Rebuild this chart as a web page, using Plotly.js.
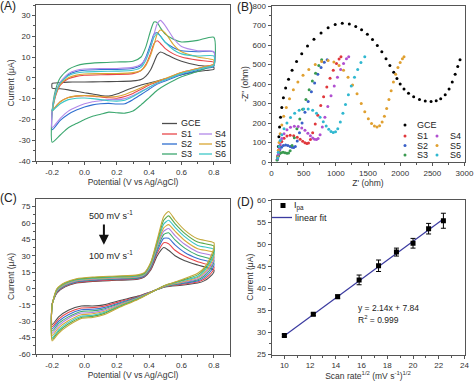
<!DOCTYPE html>
<html><head><meta charset="utf-8">
<script src="https://cdn.plot.ly/plotly-3.0.1.min.js"></script>
<style>html,body{margin:0;padding:0;background:#fff}#chart{width:474px;height:384px}</style>
</head><body><div id="chart"></div>
<script>
// ---------- Panel A: CVs of electrodes ----------
const potUpA = [-0.2,-0.18,-0.15,-0.1,-0.05,0.0,0.1,0.2,0.3,0.35,0.38,0.41,0.43,0.45,0.47,0.5,0.55,0.6,0.7,0.8];
const potDownA = [0.8,0.75,0.7,0.6,0.5,0.45,0.4,0.35,0.3,0.25,0.2,0.15,0.1,0.05,0.0,-0.05,-0.1,-0.15,-0.2];
const namesA = ['GCE','S1','S2','S3','S4','S5','S6'];
const upGCE = [-2.7,-2.5,-2.3,-2.1,-2.0,-2.0,-1.9,-1.8,-1.5,-0.8,0.8,4,7.5,11,12.4,11.5,9.5,8,6,5];
const upS1  = [-16,-9,-3.5,-0.5,0.7,1.2,1.5,1.6,2,3.5,6.5,12,16.5,17.8,16.5,14,11.5,10,8.5,7.5];
const upS2  = [-16,-8,-2.5,1.5,3,3.6,4,4,4.5,6,10,16.5,21,21.8,20,17,14.5,13,12.5,12.5];
const upS3  = [-16,-6,0,4,5.8,6.7,7.3,7.6,8,10,15,23,26.8,26.5,24,21,18.5,17.2,18,19.5];
const upS4  = [-16,-7.5,-2,2,3.6,4.2,4.5,4.5,5,6.5,9.5,15,21,26,27.6,25,19,15,13,12.5];
const upS5  = [-16,-8.5,-3,0,1.3,1.8,2,2.1,2.5,3.5,6,11,16,21,23,21.5,16,12.5,10,8.5];
const upS6  = [-16,-8,-2.5,1,2.3,2.8,3.1,3.2,3.6,5,8.5,15,19.5,21.2,20,17,13.5,11.5,10.5,10.5];
const downGCE = [4,3.5,3,1.5,-0.5,-1.5,-2.5,-3.5,-4.8,-6.2,-7.8,-8.8,-8.5,-7.8,-7.2,-6.5,-5.8,-5.3,-5];
const downS1  = [6.5,5.5,4.5,2.5,-0.5,-2,-3.5,-5.5,-7.5,-9,-9.8,-9.6,-9.2,-8.8,-8.6,-8.8,-9.5,-11.5,-16];
const downS2  = [5.5,4.5,3.5,1.5,-1.5,-3,-5.5,-8,-10.5,-12.5,-12.6,-12.3,-12.5,-13,-14,-15.5,-17.5,-20.5,-25];
const downS3  = [6,4.5,3,0.5,-3.5,-6,-9.5,-13,-16,-17,-16.8,-16.5,-17.5,-18.5,-20,-22,-24,-27.5,-31];
const downS4  = [6,5,4,2,-1,-2.8,-4.5,-6.5,-8.5,-10,-10.5,-10.5,-11,-11.5,-12.5,-14,-16,-19.5,-24];
const downS5  = [6.5,5.5,4.5,2.5,-0.3,-1.7,-3,-4.8,-6.5,-8,-9,-9.2,-9,-8.7,-8.5,-8.7,-9.5,-11.5,-16];
const downS6  = [6,5,4,2,-1,-2.5,-4.5,-6.8,-9,-10.8,-11.2,-11,-10.5,-10,-9.7,-9.8,-10.5,-12.5,-16];
const colorsA = ['#4d4d4d','#e8474b','#2f6fd0','#3da870','#b288e8','#d9a632','#3ec8c8'];

// ---------- Panel B: Nyquist ----------
const namesB = ['GCE','S1','S2','S3','S4','S5','S6'];
const reGCE = [100,108,115,125,140,160,185,220,265,320,390,470,560,660,770,880,990,1100,1210,1310,1400,1490,1570,1645,1715,1780,1840,1900,1950,2000,2060,2130,2210,2300,2390,2480,2560,2630,2700,2760,2810,2855,2895,2930];
const imGCE = [30,80,130,180,230,280,330,380,425,470,515,555,595,630,662,688,705,712,708,695,678,655,628,598,565,530,495,460,428,400,375,352,335,321,313,310,314,325,345,375,410,450,490,525];
const reS1 = [95,105,118,135,160,195,240,290,345,400,445,485,520,550,575,605,640,680,720,765,810,860,910,960,1010,1050,1080];
const imS1 = [15,35,58,82,105,122,133,137,135,127,117,107,99,95,98,115,150,195,240,290,335,385,430,470,505,528,540];
const reS2 = [90,100,112,130,155,185,220,255,290,320,345,370,400,435,475,520,570,620,670,720,770,820,865];
const imS2 = [12,30,48,64,76,84,87,85,80,76,74,80,108,150,200,255,310,360,405,450,485,512,525];
const reS3 = [85,95,108,125,150,180,210,240,265,290,320,355,395,440,485,535,585,635,685,735,780];
const imS3 = [10,22,33,42,48,50,48,45,46,58,85,125,170,220,270,320,370,415,455,495,525];
const reS4 = [95,105,118,135,160,195,240,295,355,415,470,520,565,605,640,670,700,725,755,790,830,875,925,975,1025,1075,1120,1165,1200];
const imS4 = [18,40,65,92,120,145,165,178,183,182,175,163,148,134,123,117,115,120,140,180,230,285,340,390,435,475,505,530,540];
const reS5 = [95,105,118,135,160,190,230,280,340,410,490,580,680,780,880,970,1050,1120,1190,1260,1330,1395,1450,1505,1555,1600,1640,1680,1720,1755,1790,1825,1860,1895,1930,1965,2000,2035,2060];
const imS5 = [25,60,100,145,190,235,280,325,370,410,445,475,500,515,520,513,495,470,435,395,350,300,258,222,198,185,180,186,205,235,275,320,365,410,450,485,510,530,540];
const reS6 = [95,105,118,135,160,195,240,295,360,430,500,570,640,700,755,805,850,890,925,960,995,1030,1070,1110,1150,1195,1240,1290,1340,1390,1450];
const imS6 = [20,50,80,110,140,170,200,228,250,265,272,272,265,250,230,207,185,168,156,151,155,170,205,250,295,345,390,435,475,510,540];
const colorsB = ['#000000','#e0383c','#3a60c8','#3a9a50','#b050d0','#e0a030','#30b8d0'];

// ---------- Panel C: CVs at scan rates ----------
const potUpC = [-0.2,-0.17,-0.12,-0.05,0.05,0.2,0.33,0.37,0.41,0.45,0.49,0.52,0.56,0.62,0.7,0.8];
const potDownC = [0.8,0.77,0.74,0.7,0.6,0.5,0.42,0.33,0.22,0.12,0.05,-0.02,-0.1,-0.16,-0.2];
const scanRates = [100,150,200,250,300,350,400,450,500];
const upC100 = [-14,-4,1.5,5,6.5,7.5,8.5,10.5,17,30,37.5,35,30,25.5,21.5,17];
const upC150 = [-14,-3.5,2,5.5,7,8,9,11,18,32.5,42,41,35,29.5,24.5,20];
const upC200 = [-14.5,-3,2.5,6,7.5,8.5,9.5,11.5,19,34.5,46,46,40,33,27.5,23];
const upC250 = [-14.5,-2.5,3,6.5,8,9,10,12,20,36.5,49.5,51,44.5,37,30.5,26];
const upC300 = [-14.5,-2,3.5,7,8.5,9.5,10.5,12.5,21,38.5,52.5,55,48.5,40.5,33.5,29.5];
const upC350 = [-15,-1.5,4,7.5,9,10,11,13,22,40,55.5,58.5,52.5,44,36.5,33];
const upC400 = [-15,-1,4.5,8,9.5,10.5,11.5,13.5,22.5,41.5,59,62.5,56,47.5,39.5,36];
const upC450 = [-15,-0.5,5,8.5,10,11,12,14,23.5,43,62.5,66.5,59.5,50.5,42.5,39];
const upC500 = [-15,0,5.5,9,10.5,11.5,12.5,14.5,24,45,66,70.5,63,53.5,45.5,42];
const downC100 = [15,10,7,5,3,1.5,-2.5,-7,-11,-15,-16,-16,-20,-26,-33];
const downC150 = [18,12,8.5,6,3.8,1.8,-2.6,-7.5,-12,-16.2,-17.5,-17.8,-22,-28,-35];
const downC200 = [21,14,10,7,4.5,2,-2.7,-8,-13,-17.5,-19,-19.5,-24,-30,-37];
const downC250 = [24,16,11.5,8,5,2.2,-2.8,-8.3,-13.8,-18.7,-20.5,-21,-26,-32,-39];
const downC300 = [26,18,13,9,5.5,2.4,-2.8,-8.6,-14.5,-19.8,-22,-22.5,-27.5,-34,-41];
const downC350 = [29,20,14.5,10,6,2.6,-2.9,-9,-15.2,-21,-23.2,-24,-29.5,-36,-43];
const downC400 = [31,22,16,11,6.8,2.7,-2.9,-9.3,-15.8,-22,-24.5,-25.5,-31,-38,-45];
const downC450 = [34,24,17.5,12.5,7.4,2.9,-3,-9.6,-16.4,-23,-25.5,-26.5,-32.5,-39.5,-46.5];
const downC500 = [37,26,19,14,8,3,-3,-10,-17,-24,-26.5,-27.5,-34,-41,-48];
const colorsC = ['#4d4d4d','#e8474b','#3a6fd0','#3caa6e','#b07fe0','#d8a83a','#3cc6c6','#5aa84a','#c4a83a'];

// ---------- Panel D: Ipa vs sqrt(scan rate) ----------
const scanRoot = [10, 12.25, 14.14, 15.81, 17.32, 18.71, 20, 21.21, 22.36];
const ipa = [29.3, 34.1, 38.1, 41.9, 45.1, 48.2, 50.2, 53.5, 55.3];
const ipaErr = [0.3, 0.3, 0.4, 1.1, 1.3, 0.9, 1.1, 1.2, 1.7];
const fitX = [10, 22.36];
const fitY = [29.24, 55.69];

// tick labels
const tickValsCVx = [-0.2,0,0.2,0.4,0.6,0.8];
const tickTextCVx = ['-0.2','0.0','0.2','0.4','0.6','0.8'];
const tickValsAy = [-40,-30,-20,-10,0,10,20,30];
const tickTextAy = ['-40','-30','-20','-10','0','10','20','30'];
const tickValsCy = [-60,-45,-30,-15,0,15,30,45,60,75];
const tickTextCy = ['-60','-45','-30','-15','0','15','30','45','60','75'];

// ---------- build ----------
const W = 474, H = 384;
const PX = p => p / W, PY = p => 1 - p / H;
const traces = [];
const upA = [upGCE, upS1, upS2, upS3, upS4, upS5, upS6];
const downA = [downGCE, downS1, downS2, downS3, downS4, downS5, downS6];
namesA.forEach((n, i) => traces.push({
  x: potUpA.concat(potDownA, [potUpA[0]]), y: upA[i].concat(downA[i], [upA[i][0]]),
  xaxis: 'x', yaxis: 'y', mode: 'lines', name: n, showlegend: false,
  line: {color: colorsA[i], width: 1.1, shape: 'spline', smoothing: 0.6}
}));
const reB = [reGCE, reS1, reS2, reS3, reS4, reS5, reS6];
const imB = [imGCE, imS1, imS2, imS3, imS4, imS5, imS6];
namesB.forEach((n, i) => traces.push({
  x: reB[i], y: imB[i], xaxis: 'x2', yaxis: 'y2', mode: 'markers', name: n, showlegend: false,
  marker: {color: colorsB[i], size: 3}
}));
const upC = [upC100, upC150, upC200, upC250, upC300, upC350, upC400, upC450, upC500];
const downC = [downC100, downC150, downC200, downC250, downC300, downC350, downC400, downC450, downC500];
scanRates.forEach((r, i) => traces.push({
  x: potUpC.concat(potDownC, [potUpC[0]]), y: upC[i].concat(downC[i], [upC[i][0]]),
  xaxis: 'x3', yaxis: 'y3', mode: 'lines', name: r + ' mV/s', showlegend: false,
  line: {color: colorsC[i], width: 1.1, shape: 'spline', smoothing: 0.6}
}));
traces.push({x: fitX, y: fitY, xaxis: 'x4', yaxis: 'y4', mode: 'lines', name: 'linear fit', showlegend: false,
  line: {color: '#3b3ba0', width: 1.2}});
traces.push({x: scanRoot, y: ipa, xaxis: 'x4', yaxis: 'y4', mode: 'markers', name: 'Ipa', showlegend: false,
  marker: {symbol: 'square', size: 5, color: '#000'},
  error_y: {type: 'data', array: ipaErr, visible: true, color: '#000', thickness: 1, width: 2.5}});

const axCol = '#555';
function ax(dom, range, extra, minorDtick, minorTick0) {
  return Object.assign({
    domain: dom, range: range, showline: true, linecolor: axCol, linewidth: 1, mirror: true,
    ticks: 'outside', ticklen: 3, tickwidth: 1, tickcolor: axCol, showgrid: false, zeroline: false,
    tickfont: {size: 8, color: '#333'},
    minor: {ticks: 'outside', ticklen: 2, tickcolor: axCol, tickmode: 'linear', tick0: minorTick0, dtick: minorDtick, showgrid: false}
  }, extra);
}
const tFont = {size: 8.5, color: '#333'};
const xdomL = [PX(36), PX(230)], xdomR = [PX(271.5), PX(464.5)];
const layout = {
  width: W, height: H, margin: {l: 0, r: 0, t: 0, b: 0}, showlegend: false,
  paper_bgcolor: '#fff', plot_bgcolor: '#fff',
  font: {family: 'Liberation Sans, Arial, sans-serif', color: '#333'},
  xaxis: ax(xdomL, [-0.3, 0.9], {anchor: 'y', tickmode: 'array', tickvals: tickValsCVx, ticktext: tickTextCVx,
    title: {text: 'Potential (V vs Ag/AgCl)', font: tFont, standoff: 3}}, 0.1, 0),
  yaxis: ax([PY(161), PY(5)], [-40, 35], {anchor: 'x', tickmode: 'array', tickvals: tickValsAy, ticktext: tickTextAy,
    title: {text: 'Current (μA)', font: tFont, standoff: 2}}, 5, 0),
  xaxis2: ax(xdomR, [0, 3000], {anchor: 'y2', tick0: 0, dtick: 500,
    title: {text: "Z' (ohm)", font: tFont, standoff: 3}}, 250, 0),
  yaxis2: ax([PY(162), PY(6)], [0, 800], {anchor: 'x2', tick0: 0, dtick: 100,
    title: {text: '-Z" (ohm)', font: tFont, standoff: 2}}, 50, 0),
  xaxis3: ax(xdomL, [-0.3, 0.9], {anchor: 'y3', tickmode: 'array', tickvals: tickValsCVx, ticktext: tickTextCVx,
    title: {text: 'Potential (V vs Ag/AgCl)', font: tFont, standoff: 3}}, 0.1, 0),
  yaxis3: ax([PY(354), PY(199)], [-60, 82], {anchor: 'x3', tickmode: 'array', tickvals: tickValsCy, ticktext: tickTextCy,
    title: {text: 'Current (μA)', font: tFont, standoff: 2}}, 7.5, 0),
  xaxis4: ax(xdomR, [9, 24], {anchor: 'y4', tick0: 10, dtick: 2,
    title: {text: 'Scan rate<sup>1/2</sup> (mV s<sup>-1</sup>)<sup>1/2</sup>', font: tFont, standoff: 3}}, 1, 0),
  yaxis4: ax([PY(354.5), PY(200)], [25, 60], {anchor: 'x4', tick0: 25, dtick: 5,
    title: {text: 'Current (μA)', font: tFont, standoff: 2}}, 2.5, 0),
  shapes: [], annotations: []
};

function txt(t, x, y, size, anchor) {
  layout.annotations.push({text: t, x: PX(x), y: PY(y), xref: 'paper', yref: 'paper', showarrow: false,
    xanchor: anchor || 'left', yanchor: 'middle', font: {size: size, color: '#222'}, borderpad: 0});
}
// panel labels
txt('(A)', -1, 6, 12); txt('(B)', 236, 7, 12); txt('(C)', -1, 198, 12); txt('(D)', 236, 202, 12);

// legend A (two columns)
const legA = [[0, 162, 177, 180, 123.5], [1, 162, 177, 180, 134], [2, 162, 177, 180, 144], [3, 162, 177, 180, 154],
              [4, 199, 212, 214, 134], [5, 199, 212, 214, 144], [6, 199, 212, 214, 154]];
legA.forEach(([i, x0, x1, tx, y]) => {
  layout.shapes.push({type: 'line', xref: 'paper', yref: 'paper', x0: PX(x0), x1: PX(x1), y0: PY(y), y1: PY(y),
    line: {color: colorsA[i], width: 1.3}});
  txt(namesA[i], tx, y, 9);
});
// legend B
const legB = [[0, 405, 416, 125], [1, 405, 416, 136], [2, 405, 416, 145.5], [3, 405, 416, 155],
              [4, 437, 449, 136], [5, 437, 449, 145.5], [6, 437, 449, 155]];
legB.forEach(([i, mx, tx, y]) => {
  layout.shapes.push({type: 'circle', xref: 'paper', yref: 'paper', xsizemode: 'pixel', ysizemode: 'pixel',
    xanchor: PX(mx), yanchor: PY(y), x0: -1.5, x1: 1.5, y0: -1.5, y1: 1.5,
    fillcolor: colorsB[i], line: {width: 0}});
  txt(namesB[i], tx, y, 9);
});
// panel C arrow + labels
layout.annotations.push({x: 0.12, y: 40, ax: 0.12, ay: 60, xref: 'x3', yref: 'y3', axref: 'x3', ayref: 'y3',
  text: '', showarrow: true, arrowhead: 2, arrowsize: 1, arrowwidth: 2, arrowcolor: '#111'});
txt('500 mV s<sup>-1</sup>', 111, 215, 9, 'center');
txt('100 mV s<sup>-1</sup>', 111, 255, 9, 'center');
// legend D
layout.shapes.push({type: 'rect', xref: 'paper', yref: 'paper', xsizemode: 'pixel', ysizemode: 'pixel',
  xanchor: PX(283), yanchor: PY(205.5), x0: -2.5, x1: 2.5, y0: -2.5, y1: 2.5, fillcolor: '#000', line: {width: 0}});
txt('I<sub>pa</sub>', 293, 206, 9);
layout.shapes.push({type: 'line', xref: 'paper', yref: 'paper', x0: PX(272), x1: PX(292), y0: PY(217.5), y1: PY(217.5),
  line: {color: '#3b3ba0', width: 1.3}});
txt('linear fit', 294, 217.5, 9);
txt('y = 2.14x + 7.84', 357, 308, 8.5);
txt('R<sup>2</sup> = 0.999', 357, 319, 8.5);

Plotly.newPlot('chart', traces, layout, {displayModeBar: false, staticPlot: true});
</script></body></html>
